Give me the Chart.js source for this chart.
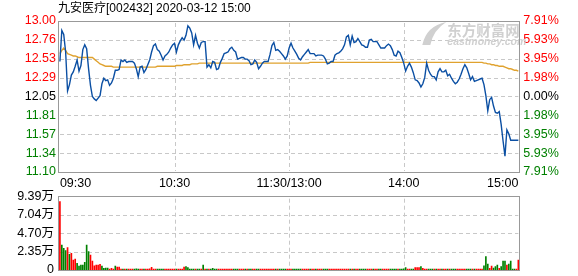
<!DOCTYPE html>
<html>
<head>
<meta charset="utf-8">
<script src="https://cdn.jsdelivr.net/npm/chart.js@4.4.1/dist/chart.umd.min.js"></script>
<style>
  body { margin: 0; background: #fff; width: 578px; height: 276px; overflow: hidden; position: relative; }
  #priceBox { position: absolute; left: 0; top: 0; width: 578px; height: 192px; }
  #volBox { position: absolute; left: 0; top: 180px; width: 578px; height: 100px; }
</style>
</head>
<body>
<div id="priceBox"><canvas id="priceChart" width="578" height="192"></canvas></div>
<div id="volBox"><canvas id="volChart" width="578" height="100"></canvas></div>
<script>
var stockTitle = "九安医疗[002432] 2020-03-12 15:00";
var prevClose = 12.05;

var timeTickValues = [0, 60, 120, 180, 240];
var timeLabels = ["09:30", "10:30", "11:30/13:00", "14:00", "15:00"];
var sessionLines = [60, 120, 180];

var priceTickValues = [11.10, 11.3375, 11.575, 11.8125, 12.05, 12.2875, 12.525, 12.7625, 13.00];
var priceTickLabels = ["11.10", "11.34", "11.57", "11.81", "12.05", "12.29", "12.53", "12.76", "13.00"];
var pctTickLabels = ["7.91%", "5.93%", "3.95%", "1.98%", "0.00%", "1.98%", "3.95%", "5.93%", "7.91%"];

var volTickValues = [0, 2.35, 4.70, 7.04, 9.39];
var volTickLabels = ["0", "2.35万", "4.70万", "7.04万", "9.39万"];

// one value per minute, 09:30 .. 15:00
var prices = [
  12.49, 12.88, 12.83, 12.61, 12.12, 12.20, 12.32, 12.36, 12.43, 12.51,
  12.37, 12.44, 12.64, 12.70, 12.65, 12.40, 12.19, 12.05, 12.02, 12.00,
  12.03, 12.06, 12.21, 12.28, 12.25, 12.26, 12.19, 12.22, 12.28, 12.38,
  12.38, 12.39, 12.51, 12.49, 12.51, 12.48, 12.49, 12.49, 12.49, 12.47,
  12.40, 12.30, 12.42, 12.43, 12.35, 12.39, 12.45, 12.51, 12.61, 12.69,
  12.71, 12.64, 12.62, 12.57, 12.51, 12.56, 12.58, 12.61, 12.66, 12.70,
  12.72, 12.61, 12.70, 12.75, 12.79, 12.76, 12.82, 12.94, 12.91, 12.85,
  12.70, 12.82, 12.72, 12.66, 12.73, 12.74, 12.74, 12.42, 12.45, 12.41,
  12.49, 12.48, 12.39, 12.40, 12.48, 12.53, 12.59, 12.60, 12.61, 12.65,
  12.67, 12.63, 12.61, 12.52, 12.53, 12.54, 12.54, 12.52, 12.52, 12.50,
  12.45, 12.46, 12.51, 12.48, 12.40, 12.43, 12.47, 12.49, 12.49, 12.49,
  12.58, 12.69, 12.73, 12.63, 12.64, 12.62, 12.59, 12.56, 12.52, 12.56,
  12.66, 12.72, 12.66, 12.62, 12.58, 12.53, 12.51, 12.55, 12.58, 12.61,
  12.64, 12.59, 12.59, 12.59, 12.56, 12.57, 12.57, 12.57, 12.56, 12.52,
  12.46, 12.47, 12.49, 12.49, 12.57, 12.59, 12.60, 12.62, 12.65, 12.70,
  12.80, 12.82, 12.70, 12.81, 12.73, 12.74, 12.78, 12.74, 12.70, 12.69,
  12.67, 12.67, 12.76, 12.77, 12.74, 12.74, 12.74, 12.70, 12.66, 12.66,
  12.66, 12.69, 12.71, 12.69, 12.64, 12.57, 12.56, 12.62, 12.60, 12.54,
  12.47, 12.37, 12.43, 12.47, 12.42, 12.35, 12.26, 12.25, 12.22, 12.17,
  12.21, 12.29, 12.47, 12.38, 12.33, 12.30, 12.30, 12.26, 12.36, 12.40,
  12.36, 12.36, 12.38, 12.31, 12.33, 12.28, 12.24, 12.21, 12.23, 12.27,
  12.33, 12.40, 12.45, 12.41, 12.34, 12.26, 12.30, 12.24, 12.25, 12.26,
  12.27, 12.28, 12.20, 12.06, 11.87, 12.01, 12.04, 11.93, 11.85, 11.84,
  11.86, 11.70, 11.49, 11.30, 11.63, 11.58, 11.50, 11.50, 11.50, 11.50,
  11.50
];

var avgPrices = [
  12.59, 12.63, 12.66, 12.63, 12.59, 12.58, 12.57, 12.56, 12.56, 12.55,
  12.54, 12.54, 12.54, 12.54, 12.54, 12.54, 12.54, 12.54, 12.52, 12.50,
  12.48, 12.46, 12.45, 12.44, 12.43, 12.43, 12.43, 12.43, 12.42, 12.42,
  12.42, 12.42, 12.42, 12.42, 12.42, 12.42, 12.42, 12.42, 12.42, 12.42,
  12.42, 12.42, 12.42, 12.42, 12.42, 12.42, 12.42, 12.42, 12.42, 12.42,
  12.42, 12.43, 12.43, 12.43, 12.43, 12.43, 12.43, 12.43, 12.43, 12.43,
  12.43, 12.44, 12.44, 12.44, 12.44, 12.45, 12.45, 12.45, 12.45, 12.46,
  12.46, 12.46, 12.46, 12.47, 12.47, 12.47, 12.47, 12.47, 12.47, 12.47,
  12.47, 12.47, 12.47, 12.47, 12.47, 12.47, 12.47, 12.47, 12.47, 12.47,
  12.47, 12.47, 12.47, 12.47, 12.47, 12.47, 12.47, 12.47, 12.47, 12.47,
  12.47, 12.47, 12.47, 12.47, 12.47, 12.47, 12.47, 12.47, 12.47, 12.47,
  12.47, 12.47, 12.47, 12.47, 12.47, 12.47, 12.47, 12.47, 12.47, 12.47,
  12.47, 12.47, 12.47, 12.47, 12.47, 12.47, 12.47, 12.47, 12.47, 12.47,
  12.47, 12.48, 12.48, 12.48, 12.48, 12.48, 12.48, 12.48, 12.48, 12.48,
  12.48, 12.48, 12.48, 12.48, 12.48, 12.48, 12.48, 12.48, 12.48, 12.48,
  12.48, 12.48, 12.48, 12.48, 12.48, 12.48, 12.48, 12.48, 12.48, 12.48,
  12.48, 12.48, 12.48, 12.48, 12.48, 12.48, 12.48, 12.48, 12.48, 12.48,
  12.48, 12.48, 12.48, 12.48, 12.48, 12.48, 12.48, 12.48, 12.48, 12.48,
  12.48, 12.48, 12.48, 12.48, 12.48, 12.48, 12.48, 12.48, 12.48, 12.48,
  12.48, 12.48, 12.48, 12.48, 12.48, 12.48, 12.48, 12.48, 12.48, 12.48,
  12.48, 12.48, 12.48, 12.48, 12.48, 12.48, 12.48, 12.48, 12.48, 12.48,
  12.48, 12.48, 12.48, 12.48, 12.48, 12.48, 12.48, 12.48, 12.48, 12.48,
  12.48, 12.48, 12.47, 12.47, 12.46, 12.46, 12.45, 12.45, 12.44, 12.44,
  12.43, 12.43, 12.43, 12.42, 12.41, 12.40, 12.40, 12.39, 12.38, 12.38,
  12.37
];

// volume in 万 shares per minute
var volumes = [
  8.75, 3.20, 2.78, 2.48, 2.86, 2.00, 2.13, 1.28, 1.41, 0.85,
  0.51, 0.64, 0.64, 0.98, 3.20, 2.35, 1.92, 1.15, 0.55, 0.64,
  0.64, 0.73, 0.51, 0.20, 0.25, 0.25, 0.12, 0.20, 0.12, 0.51,
  0.38, 0.38, 0.12, 0.10, 0.12, 0.10, 0.08, 0.10, 0.10, 0.12,
  0.15, 0.10, 0.10, 0.12, 0.10, 0.10, 0.12, 0.15, 0.34, 0.12,
  0.10, 0.10, 0.12, 0.10, 0.08, 0.10, 0.10, 0.10, 0.12, 0.10,
  0.10, 0.10, 0.08, 0.10, 0.10, 0.38, 0.43, 0.30, 0.10, 0.12,
  0.10, 0.10, 0.08, 0.10, 0.10, 0.64, 0.10, 0.10, 0.12, 0.10,
  0.20, 0.10, 0.10, 0.12, 0.10, 0.08, 0.10, 0.10, 0.10, 0.12,
  0.10, 0.10, 0.08, 0.10, 0.10, 0.10, 0.12, 0.10, 0.10, 0.08,
  0.10, 0.10, 0.12, 0.10, 0.10, 0.10, 0.08, 0.10, 0.10, 0.10,
  0.12, 0.10, 0.10, 0.10, 0.08, 0.10, 0.10, 0.12, 0.10, 0.10,
  0.10, 0.10, 0.08, 0.10, 0.10, 0.10, 0.12, 0.10, 0.10, 0.10,
  0.08, 0.10, 0.10, 0.10, 0.12, 0.10, 0.10, 0.10, 0.08, 0.10,
  0.10, 0.12, 0.10, 0.10, 0.10, 0.08, 0.10, 0.10, 0.10, 0.12,
  0.10, 0.10, 0.10, 0.08, 0.10, 0.10, 0.12, 0.10, 0.10, 0.10,
  0.08, 0.10, 0.10, 0.12, 0.10, 0.10, 0.10, 0.08, 0.10, 0.10,
  0.10, 0.12, 0.10, 0.10, 0.08, 0.10, 0.10, 0.10, 0.12, 0.10,
  0.15, 0.30, 0.10, 0.10, 0.10, 0.12, 0.30, 0.30, 0.30, 0.43,
  0.20, 0.10, 0.10, 0.08, 0.10, 0.10, 0.10, 0.12, 0.10, 0.10,
  0.08, 0.10, 0.10, 0.10, 0.12, 0.10, 0.10, 0.10, 0.08, 0.10,
  0.10, 0.12, 0.10, 0.10, 0.10, 0.08, 0.10, 0.10, 0.12, 0.10,
  0.10, 0.12, 0.55, 1.71, 0.77, 0.20, 0.51, 0.25, 0.43, 0.64,
  0.20, 0.43, 1.15, 1.15, 0.64, 0.77, 1.15, 0.10, 0.05, 0.05,
  1.28
];

// 1 = red (up) bar, 0 = green (down) bar
var volUp = [
  1, 0, 0, 0, 1, 0, 1, 1, 1, 0,
  0, 0, 0, 0, 0, 0, 1, 1, 1, 1,
  1, 1, 0, 0, 0, 0, 1, 1, 1, 0,
  1, 1, 1, 0, 1, 0, 1, 1, 1, 0,
  0, 0, 1, 1, 0, 1, 1, 1, 1, 1,
  1, 0, 0, 0, 0, 1, 1, 1, 1, 1,
  1, 0, 1, 1, 1, 1, 0, 0, 0, 0,
  0, 1, 0, 0, 1, 0, 1, 0, 1, 0,
  0, 0, 0, 1, 1, 1, 1, 1, 1, 1,
  1, 0, 0, 0, 1, 1, 1, 0, 1, 0,
  0, 1, 1, 0, 0, 1, 1, 1, 1, 1,
  1, 1, 1, 0, 1, 0, 0, 0, 0, 1,
  1, 1, 0, 0, 0, 0, 0, 1, 1, 1,
  1, 0, 1, 1, 0, 1, 1, 1, 0, 0,
  0, 1, 1, 1, 1, 1, 1, 1, 1, 1,
  1, 1, 0, 1, 0, 1, 1, 0, 0, 0,
  0, 1, 1, 1, 0, 1, 1, 0, 0, 1,
  1, 1, 1, 0, 0, 0, 0, 1, 0, 0,
  0, 0, 1, 1, 0, 0, 1, 1, 1, 0,
  1, 1, 1, 0, 0, 0, 1, 0, 1, 1,
  0, 1, 1, 0, 1, 0, 0, 0, 1, 1,
  1, 1, 1, 0, 0, 0, 1, 0, 1, 1,
  1, 1, 0, 0, 0, 1, 1, 0, 0, 0,
  1, 0, 0, 0, 1, 0, 0, 0, 0, 1,
  1
];

var upColor = "#ff0000";
var downColor = "#008000";
var gridColor = "#c8c8c8";
var frameColor = "#999999";
var labelFont = { family: '"Liberation Sans", Arial, "Noto Sans CJK SC", sans-serif', size: 12.5 };

function toPoints(list) {
  return list.map(function (v, i) {
    return { x: i, y: v };
  });
}

function priceColor(ctx) {
  var v = ctx.tick ? ctx.tick.value : prevClose;
  if (Math.abs(v - prevClose) < 0.001) return "#000000";
  return v > prevClose ? upColor : downColor;
}

function drawGrid(chart) {
  var ctx = chart.ctx;
  var area = chart.chartArea;
  var xs = chart.scales.x;
  var ys = chart.scales.y;
  ctx.save();
  ctx.fillStyle = gridColor;
  ys.ticks.forEach(function (tick) {
    var py = Math.round(ys.getPixelForValue(tick.value));
    if (py <= area.top + 1 || py >= area.bottom - 1) return;
    for (var px = area.left + 2; px < area.right - 1; px += 7) {
      ctx.fillRect(px, py, Math.min(4, area.right - 1 - px), 1);
    }
  });
  sessionLines.forEach(function (v) {
    var px = Math.round(xs.getPixelForValue(v));
    for (var py = area.top + 2; py < area.bottom - 1; py += 7) {
      ctx.fillRect(px, py, 1, Math.min(4, area.bottom - 1 - py));
    }
  });
  ctx.restore();
}

function drawFrame(chart) {
  var ctx = chart.ctx;
  var area = chart.chartArea;
  var x0 = Math.floor(area.left);
  var y0 = Math.floor(area.top);
  var x1 = Math.round(area.right);
  var y1 = Math.round(area.bottom);
  ctx.save();
  ctx.fillStyle = frameColor;
  ctx.fillRect(x0, y0, x1 - x0 + 1, 1);
  ctx.fillRect(x0, y1, x1 - x0 + 1, 1);
  ctx.fillRect(x0, y0, 1, y1 - y0 + 1);
  ctx.fillRect(x1, y0, 1, y1 - y0 + 1);
  ctx.restore();
}

function drawHeader(chart) {
  var ctx = chart.ctx;
  var area = chart.chartArea;
  ctx.save();
  ctx.fillStyle = "#000000";
  ctx.font = '12px "Liberation Sans", Arial, "Noto Sans CJK SC", sans-serif';
  ctx.textAlign = "left";
  ctx.textBaseline = "middle";
  ctx.fillText(stockTitle, area.left, 9);

  // watermark
  ctx.fillStyle = "#d0d0d0";
  ctx.beginPath();
  ctx.moveTo(area.right - 97, area.top + 24);
  ctx.quadraticCurveTo(area.right - 93, area.top + 5, area.right - 73, area.top + 1);
  ctx.quadraticCurveTo(area.right - 86, area.top + 9, area.right - 89, area.top + 24);
  ctx.closePath();
  ctx.fill();
  ctx.font = 'bold 14.5px "Noto Sans CJK SC", sans-serif';
  ctx.fillText("东方财富网", area.right - 72, area.top + 9);
  ctx.font = 'italic bold 10.5px "Liberation Sans", sans-serif';
  ctx.fillText("eastmoney.com", area.right - 72, area.top + 21);
  ctx.restore();
}

function decorPlugin(withHeader) {
  return {
    id: "decor",
    beforeDatasetsDraw: function (chart) {
      drawGrid(chart);
      drawFrame(chart);
      if (withHeader) drawHeader(chart);
    },
    afterDraw: function (chart) {
      drawFrame(chart);
    },
  };
}

new Chart("priceChart", {
  type: "line",
  data: {
    datasets: [
      {
        data: toPoints(prices),
        borderColor: "#0b4fa3",
        borderWidth: 1.4,
        pointRadius: 0,
        tension: 0,
        fill: false,
      },
      {
        data: toPoints(avgPrices),
        borderColor: "#e0a22e",
        borderWidth: 1.4,
        pointRadius: 0,
        tension: 0,
        fill: false,
      },
    ],
  },
  options: {
    responsive: false,
    animation: false,
    layout: { padding: { top: 21, left: 0, right: 0, bottom: 0 } },
    plugins: { legend: { display: false }, tooltip: { enabled: false } },
    scales: {
      x: {
        type: "linear",
        min: -1,
        max: 240.5,
        afterBuildTicks: function (scale) {
          scale.ticks = timeTickValues.map(function (v) { return { value: v }; });
        },
        afterFit: function (scale) { scale.height = 20; },
        ticks: {
          autoSkip: false,
          maxRotation: 0,
          align: "inner",
          padding: -4, // default 8px tick length is kept, so pull labels back up
          color: "#000000",
          font: labelFont,
          callback: function (value, index) { return timeLabels[index]; },
        },
        grid: { display: false },
        border: { display: false },
      },
      y: {
        position: "left",
        min: 11.10,
        max: 13.00,
        afterBuildTicks: function (scale) {
          scale.ticks = priceTickValues.map(function (v) { return { value: v }; });
        },
        afterFit: function (scale) { scale.width = 58; },
        ticks: {
          autoSkip: false,
          padding: -6,
          color: priceColor,
          font: labelFont,
          callback: function (value, index) { return priceTickLabels[index]; },
        },
        grid: { display: false },
        border: { display: false },
      },
      y2: {
        position: "right",
        min: 11.10,
        max: 13.00,
        afterBuildTicks: function (scale) {
          scale.ticks = priceTickValues.map(function (v) { return { value: v }; });
        },
        afterFit: function (scale) { scale.width = 58.7; },
        ticks: {
          autoSkip: false,
          padding: -4,
          color: priceColor,
          font: labelFont,
          callback: function (value, index) { return pctTickLabels[pctTickLabels.length - 1 - index]; },
        },
        grid: { display: false },
        border: { display: false },
      },
    },
  },
  plugins: [decorPlugin(true)],
});

new Chart("volChart", {
  type: "bar",
  data: {
    datasets: [
      {
        data: toPoints(volumes),
        backgroundColor: volumes.map(function (v, i) { return volUp[i] ? upColor : downColor; }),
        borderWidth: 0,
        barThickness: 1,
        minBarLength: 1,
      },
    ],
  },
  options: {
    responsive: false,
    animation: false,
    layout: { padding: { top: 16.7, left: 0, right: 58.7, bottom: 10 } },
    plugins: { legend: { display: false }, tooltip: { enabled: false } },
    scales: {
      x: {
        type: "linear",
        min: -1,
        max: 240.5,
        offset: false,
        afterFit: function (scale) { scale.height = 0; },
        ticks: { display: false },
        grid: { display: false, offset: false },
        border: { display: false },
      },
      y: {
        min: 0,
        max: 9.39,
        afterBuildTicks: function (scale) {
          scale.ticks = volTickValues.map(function (v) { return { value: v }; });
        },
        afterFit: function (scale) { scale.width = 58; },
        ticks: {
          autoSkip: false,
          padding: -4,
          color: "#000000",
          font: labelFont,
          callback: function (value, index) { return volTickLabels[index]; },
        },
        grid: { display: false },
        border: { display: false },
      },
    },
  },
  plugins: [decorPlugin(false)],
});
</script>
</body>
</html>
